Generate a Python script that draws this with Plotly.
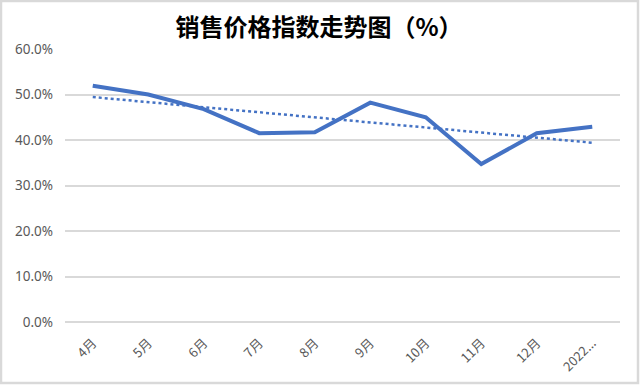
import numpy as np
import plotly.graph_objects as go

categories = ["4月", "5月", "6月", "7月", "8月", "9月", "10月", "11月", "12月", "2022..."]
values = [0.519, 0.500, 0.468, 0.415, 0.417, 0.482, 0.450, 0.347, 0.415, 0.429]
y_ticks = [0, 0.1, 0.2, 0.3, 0.4, 0.5, 0.6]

# Linear trendline (as in the spreadsheet chart)
xi = np.arange(len(values))
slope, intercept = np.polyfit(xi, values, 1)
trend = slope * xi + intercept

W, H = 640, 385
L, R, T, B = 65, 20, 49, 63
pw, ph = W - L - R, H - T - B

fig = go.Figure()
fig.add_trace(go.Scatter(x=categories, y=trend, mode="lines",
                         line=dict(color="#4472C4", width=2.5, dash="dot"),
                         hoverinfo="skip", showlegend=False))
fig.add_trace(go.Scatter(x=categories, y=values, mode="lines",
                         line=dict(color="#4472C4", width=4),
                         showlegend=False))

fig.update_layout(
    width=W, height=H,
    margin=dict(l=L, r=R, t=T, b=B),
    paper_bgcolor="white", plot_bgcolor="white",
    title=dict(text="<b>销售价格指数走势图（%）</b>", x=(311 - L + 8) / pw, xref="paper",
               xanchor="center", y=1 - 27.5 / H, yanchor="middle",
               font=dict(family="Noto Sans CJK SC", size=24, color="#000000")),
    font=dict(family="Noto Sans CJK SC", size=13, color="#595959"),
    xaxis=dict(type="category", tickangle=-45, showgrid=False, showline=False,
               ticks="", ticklabelstandoff=10, automargin=False,
               tickfont=dict(family="Noto Sans CJK SC", size=13, color="#595959"),
               range=[-0.5, len(categories) - 0.5]),
    yaxis=dict(range=[0, 0.6], tickvals=y_ticks, tickformat=".1%", automargin=False,
               showgrid=True, gridcolor="#D9D9D9", gridwidth=1.5,
               zeroline=True, zerolinecolor="#D9D9D9", zerolinewidth=1.5,
               showline=False, ticks="", ticklabelstandoff=11,
               tickfont=dict(family="Noto Sans", size=13.5, color="#595959")),
    shapes=[dict(type="rect", xref="paper", yref="paper",
                 x0=(1 - L) / pw, x1=1 + (R - 2) / pw, y0=-(B - 2) / ph, y1=1 + (T - 1) / ph,
                 line=dict(color="#D9D9D9", width=2.5), fillcolor="rgba(0,0,0,0)",
                 layer="below")],
)

fig.write_html("out.html", config={"displayModeBar": False},
               post_script="document.body.style.margin='0';document.body.style.overflow='hidden';")
